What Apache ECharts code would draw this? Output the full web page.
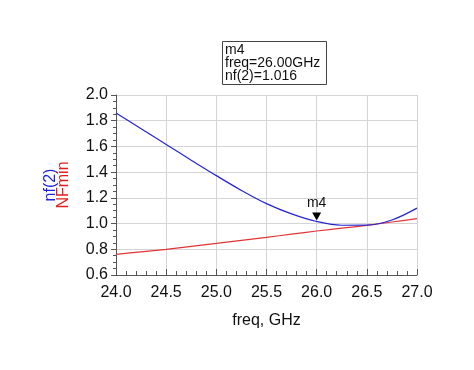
<!DOCTYPE html>
<html>
<head>
<meta charset="utf-8">
<script src="https://cdn.jsdelivr.net/npm/echarts@6/dist/echarts.min.js"></script>
<style>html,body{margin:0;padding:0;background:#fff;}#c{width:474px;height:370px;}</style>
</head>
<body>
<div id="c"></div>
<script>
var freq = [24.0, 24.25, 24.5, 24.75, 25.0, 25.25, 25.5, 25.75, 26.0, 26.25, 26.5, 26.75, 27.0];
var nf2 = [1.86, 1.738, 1.615, 1.493, 1.373, 1.258, 1.155, 1.075, 1.016, 0.987, 0.988, 1.028, 1.12];
var nfmin = [0.76, 0.78, 0.80, 0.823, 0.846, 0.870, 0.893, 0.918, 0.942, 0.964, 0.986, 1.012, 1.038];
var xTicks = [24.0, 24.5, 25.0, 25.5, 26.0, 26.5, 27.0];
var yTicks = [0.6, 0.8, 1.0, 1.2, 1.4, 1.6, 1.8, 2.0];
var marker = {name: 'm4', freq: 26.0, value: 1.016};

var font = 'Liberation Sans, Arial, sans-serif';
var chart = echarts.init(document.getElementById('c'));
function pairs(xs, ys){ return xs.map(function(x,i){return [x, ys[i]];}); }
chart.setOption({
  animation: false,
  grid: {left: 116, right: 57, top: 95, bottom: 95},
  xAxis: {
    type: 'value', min: xTicks[0], max: xTicks[xTicks.length-1], interval: 0.5,
    name: 'freq, GHz', nameLocation: 'middle', nameGap: 38,
    nameTextStyle: {fontFamily: font, fontSize: 16, color: '#111'},
    axisLine: {lineStyle: {color: '#555', width: 1}},
    axisTick: {inside: true, length: 6, lineStyle: {color: '#555'}},
    minorTick: {show: true, splitNumber: 5, length: 4, lineStyle: {color: '#555'}},
    splitLine: {show: true, lineStyle: {color: '#d4d4d4'}},
    axisLabel: {fontFamily: font, fontSize: 16, color: '#111', margin: 10,
      formatter: function(v){return v.toFixed(1);}}
  },
  yAxis: {
    type: 'value', min: yTicks[0], max: yTicks[yTicks.length-1], interval: 0.2,
    axisLine: {show: true, lineStyle: {color: '#555', width: 1}},
    axisTick: {show: true, inside: false, length: 5, lineStyle: {color: '#555'}},
    minorTick: {show: true, splitNumber: 4, length: 3, lineStyle: {color: '#555'}},
    splitLine: {show: true, lineStyle: {color: '#d4d4d4'}},
    axisLabel: {fontFamily: font, fontSize: 16, color: '#111', margin: 8,
      formatter: function(v){return v.toFixed(1);}}
  },
  series: [
    {type: 'line', name: 'nf(2)', data: pairs(freq, nf2), smooth: 0.35, showSymbol: false,
     lineStyle: {color: '#2525d5', width: 1.2}, z: 3,
     markPoint: {
       symbol: 'triangle', symbolSize: [9, 8], symbolRotate: 180, symbolOffset: [0, -5],
       itemStyle: {color: '#000'},
       label: {show: true, position: 'top', distance: 2, formatter: marker.name,
         fontFamily: font, fontSize: 14, color: '#111'},
       data: [{coord: [marker.freq, marker.value]}]
     }},
    {type: 'line', name: 'NFmin', data: pairs(freq, nfmin), smooth: 0.3, showSymbol: false,
     lineStyle: {color: '#e03535', width: 1.2}, z: 2}
  ],
  graphic: [
    {type: 'text', x: 51, y: 185, rotation: Math.PI/2,
     style: {text: 'nf(2)', fill: '#2020e0', font: '16px ' + font, textAlign: 'center', textVerticalAlign: 'middle'}},
    {type: 'text', x: 64, y: 185, rotation: Math.PI/2,
     style: {text: 'NFmin', fill: '#e02020', font: '16px ' + font, textAlign: 'center', textVerticalAlign: 'middle'}},
    {type: 'rect', shape: {x: 222.5, y: 41.5, width: 104, height: 43},
     style: {fill: '#fff', stroke: '#444', lineWidth: 1}},
    {type: 'text', x: 225, y: 50.5,
     style: {text: marker.name, fill: '#111', font: '14px ' + font, textVerticalAlign: 'middle'}},
    {type: 'text', x: 225, y: 63.5,
     style: {text: 'freq=' + marker.freq.toFixed(2) + 'GHz', fill: '#111', font: '14px ' + font, textVerticalAlign: 'middle'}},
    {type: 'text', x: 225, y: 76.5,
     style: {text: 'nf(2)=' + marker.value.toFixed(3), fill: '#111', font: '14px ' + font, textVerticalAlign: 'middle'}}
  ]
});
</script>
</body>
</html>
